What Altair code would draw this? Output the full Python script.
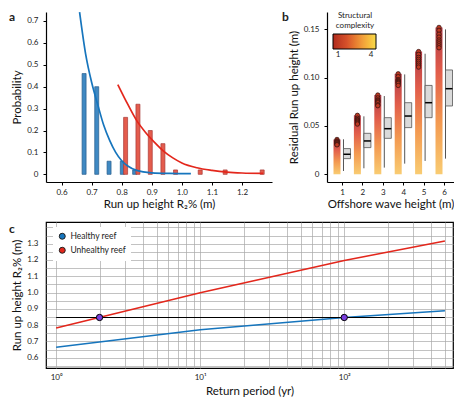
import altair as alt
import pandas as pd

FONT = "Lato"
TXT = "#222222"

# ---------------- Panel a : probability of run-up height ----------------
reef_names = ["Healthy reef", "Unhealthy reef"]
healthy_bin_x = [0.675, 0.717, 0.758, 0.802, 0.843]
healthy_bin_p = [0.46, 0.40, 0.06, 0.06, 0.02]
unhealthy_bin_x = [0.813, 0.854, 0.895, 0.937, 0.979, 1.061, 1.144, 1.267]
unhealthy_bin_p = [0.26, 0.32, 0.20, 0.14, 0.02, 0.02, 0.02, 0.02]
healthy_fit_x = [0.66, 0.68, 0.70, 0.72, 0.74, 0.76, 0.78, 0.80, 0.82, 0.85, 0.90, 0.96, 1.03]
healthy_fit_p = [0.74, 0.55, 0.42, 0.32, 0.225, 0.155, 0.10, 0.062, 0.038, 0.018, 0.007, 0.004, 0.003]
unhealthy_fit_x = [0.787, 0.82, 0.85, 0.88, 0.91, 0.94, 0.97, 1.00, 1.05, 1.10, 1.15, 1.20, 1.27]
unhealthy_fit_p = [0.41, 0.32, 0.245, 0.19, 0.145, 0.105, 0.075, 0.052, 0.03, 0.018, 0.01, 0.006, 0.004]

# ---------------- Panel b : residual run-up vs offshore wave height ----------------
wave_height = [1, 2, 3, 4, 5, 6]
strip_low = [0, 0, 0, 0, 0, 0]
strip_high = [0.036, 0.061, 0.082, 0.104, 0.127, 0.152]
whisker_low = [0.0034, 0.0062, 0.0069, 0.011, 0.0138, 0.0162]
whisker_high = [0.0362, 0.060, 0.081, 0.1034, 0.1248, 0.150]
box_q1 = [0.0162, 0.0276, 0.0372, 0.0483, 0.0586, 0.0707]
box_median = [0.0207, 0.0345, 0.0472, 0.0603, 0.0741, 0.0886]
box_q3 = [0.0266, 0.0424, 0.0586, 0.0741, 0.092, 0.108]
top_points = {
    1: [0.036, 0.0345, 0.0335, 0.033, 0.032, 0.031, 0.0305],
    2: [0.061, 0.058, 0.0565, 0.056, 0.055, 0.054, 0.053, 0.052],
    3: [0.082, 0.079, 0.077, 0.076, 0.075, 0.074, 0.072, 0.071],
    4: [0.104, 0.101, 0.098, 0.097, 0.096, 0.095, 0.094, 0.092],
    5: [0.127, 0.124, 0.121, 0.119, 0.117, 0.115, 0.113, 0.111],
    6: [0.152, 0.149, 0.145, 0.142, 0.139, 0.137, 0.135, 0.133, 0.131],
}
top_complexity = 1

# ---------------- Panel c : run-up vs return period ----------------
return_period = [1, 10, 100, 500]
healthy_rp = [0.664, 0.772, 0.847, 0.888]
unhealthy_rp = [0.782, 0.999, 1.197, 1.316]
threshold_rp = [1, 500]
threshold_val = 0.847
crossing_rp = [2, 100]

# ---------------- data frames ----------------
bars_df = pd.DataFrame({
    "x": healthy_bin_x + unhealthy_bin_x,
    "p": healthy_bin_p + unhealthy_bin_p,
    "reef": [reef_names[0]] * len(healthy_bin_x) + [reef_names[1]] * len(unhealthy_bin_x),
})
fit_h_df = pd.DataFrame({"x": healthy_fit_x, "p": healthy_fit_p})
fit_u_df = pd.DataFrame({"x": unhealthy_fit_x, "p": unhealthy_fit_p})
b_df = pd.DataFrame({
    "wave": wave_height, "lo": strip_low, "hi": strip_high,
    "wlo": whisker_low, "whi": whisker_high,
    "q1": box_q1, "med": box_median, "q3": box_q3,
})
tp_rows = []
for w, vals in top_points.items():
    for v in vals:
        tp_rows.append({"wave": w, "r": v, "cx": top_complexity})
tp_df = pd.DataFrame(tp_rows)

c_h_df = pd.DataFrame({"rp": return_period, "R": healthy_rp})
c_u_df = pd.DataFrame({"rp": return_period, "R": unhealthy_rp})
c_leg_df = pd.DataFrame({"rp": [return_period[0]] * 2, "R": [healthy_rp[0], unhealthy_rp[0]],
                         "reef": reef_names})
thr_df = pd.DataFrame({"rp": threshold_rp, "R": [threshold_val] * len(threshold_rp)})
cross_df = pd.DataFrame({"rp": crossing_rp, "R": [threshold_val] * len(crossing_rp)})

LINE_COLORS = ["#1675bd", "#e3271c"]
BAR_FILL = ["#3f89c3", "#e45c4d"]
BAR_STROKE = ["#2a5f8c", "#a83a36"]

# ---------------- panel a ----------------
ya_scale = alt.Scale(domain=[-0.035, 0.741], nice=False, zero=False)
xa = alt.X("x:Q", scale=alt.Scale(domain=[0.565, 1.283], nice=False, zero=False),
           axis=alt.Axis(values=[0.6, 0.7, 0.8, 0.9, 1.0, 1.1, 1.2], format=".1f", tickCount=50,
                         labelPadding=3, titlePadding=2,
                         title="Run up height R₂% (m)", labelFlush=False))
ya = alt.Y("p:Q", scale=ya_scale, stack=None,
           axis=alt.Axis(values=[0, 0.1, 0.2, 0.3, 0.4, 0.5, 0.6, 0.7], tickCount=50,
                         labelExpr="datum.value == 0 ? '0' : format(datum.value, '.1f')",
                         title="Probability"))

legend_a = alt.Legend(orient="none", legendX=166, legendY=5, title=None, symbolType="circle",
                      symbolSize=36, symbolStrokeColor="#222", symbolStrokeWidth=1, symbolOpacity=1,
                      labelFontSize=8, rowPadding=2, padding=0, labelColor=TXT)

bars = alt.Chart(bars_df).mark_bar(size=4, strokeWidth=0.7).encode(
    x=xa, y=ya,
    fill=alt.Fill("reef:N", scale=alt.Scale(domain=reef_names, range=BAR_FILL), legend=None),
    stroke=alt.Stroke("reef:N", scale=alt.Scale(domain=reef_names, range=BAR_STROKE), legend=None),
)
fit_h = alt.Chart(fit_h_df).mark_line(strokeWidth=1.7, interpolate="monotone",
                                      color=LINE_COLORS[0]).encode(x="x:Q", y="p:Q")
fit_u = alt.Chart(fit_u_df).mark_line(strokeWidth=1.7, interpolate="monotone",
                                      color=LINE_COLORS[1]).encode(x="x:Q", y="p:Q")
leg_a = alt.Chart(bars_df).mark_point(filled=True, opacity=0, size=36).encode(
    x="x:Q", y="p:Q",
    color=alt.Color("reef:N", scale=alt.Scale(domain=reef_names, range=LINE_COLORS), legend=legend_a),
)
lab_a = alt.Chart(pd.DataFrame({"t": ["a"]})).mark_text(
    fontSize=12, fontWeight="bold", align="left", baseline="top", color=TXT
).encode(x=alt.value(-37), y=alt.value(0), text="t:N")

panel_a = alt.layer(bars, fit_h, fit_u, leg_a, lab_a).properties(width=226, height=170)

# ---------------- panel b ----------------
xb = alt.X("wave:Q", scale=alt.Scale(domain=[0.265, 6.49], nice=False, zero=False),
           axis=alt.Axis(values=wave_height, format="d", tickCount=50,
                         labelPadding=3, titlePadding=2,
                         title="Offshore wave height (m)"))
yb_scale = alt.Scale(domain=[-0.008, 0.168], nice=False, zero=False)
yb_axis = alt.Axis(values=[0, 0.05, 0.10, 0.15], tickCount=50,
                   labelExpr="datum.value == 0 ? '0' : format(datum.value, '.2f')",
                   title="Residual Run up height (m)")

strip_fill = alt.Gradient(
    gradient="linear", x1=0, x2=0, y1=1, y2=0,
    stops=[alt.GradientStop(color="#f8c662", offset=0),
           alt.GradientStop(color="#f28f3e", offset=0.35),
           alt.GradientStop(color="#de4b37", offset=0.7),
           alt.GradientStop(color="#a82431", offset=1)],
)
strip = alt.Chart(b_df).mark_rect(xOffset=-8.5, x2Offset=-1.5, fill=strip_fill, opacity=0.9).encode(
    x=xb, x2="wave:Q", y=alt.Y("lo:Q", scale=yb_scale, axis=yb_axis), y2="hi:Q")
whisk = alt.Chart(b_df).mark_rule(xOffset=1.5, color="#555555", strokeWidth=1).encode(
    x="wave:Q", y="wlo:Q", y2="whi:Q")
box = alt.Chart(b_df).mark_rect(xOffset=1.5, x2Offset=8.5, fill="#dadada", stroke="#555555",
                                strokeWidth=0.8).encode(x="wave:Q", x2="wave:Q", y="q1:Q", y2="q3:Q")
med = alt.Chart(b_df).mark_rule(xOffset=1.5, x2Offset=8.5, color="black", strokeWidth=1.5).encode(
    x="wave:Q", x2="wave:Q", y="med:Q")
legend_b = alt.Legend(orient="none", legendX=6, legendY=0, direction="horizontal",
                      gradientLength=43, gradientThickness=15, gradientStrokeColor="black",
                      gradientStrokeWidth=1, values=[1, 4], title=["Structural", "complexity"],
                      titleFontSize=8, titleFontWeight="normal", titleAnchor="middle",
                      titleLineHeight=10, titlePadding=4, labelFontSize=8, labelOffset=2,
                      padding=0, labelColor=TXT, titleColor=TXT)
tops = alt.Chart(tp_df).mark_point(filled=True, size=20, stroke="#2a0f0f", strokeWidth=0.7,
                                   xOffset=-5, opacity=1).encode(
    x="wave:Q", y="r:Q",
    color=alt.Color("cx:Q", scale=alt.Scale(domain=[0.55, 4.45],
                                            range=["#b02a1d", "#d8532b", "#f09a3a", "#f7dc4b"]),
                    legend=legend_b),
)
lab_b = alt.Chart(pd.DataFrame({"t": ["b"]})).mark_text(
    fontSize=12, fontWeight="bold", align="left", baseline="top", color=TXT
).encode(x=alt.value(-45), y=alt.value(0), text="t:N")

panel_b = alt.layer(strip, whisk, box, med, tops, lab_b).properties(width=127, height=170)

# ---------------- panel c ----------------
grid_x = [m * 10 ** e for e in range(3) for m in range(1, 10) if m * 10 ** e <= 500]
grid_y = [0.55, 0.6, 0.65, 0.7, 0.75, 0.8, 0.85, 0.9, 0.95, 1.0, 1.05, 1.1, 1.15, 1.2, 1.25,
          1.3, 1.35, 1.4]
xc = alt.X("rp:Q", scale=alt.Scale(type="log", domain=[0.85, 569], nice=False),
           axis=alt.Axis(values=grid_x, tickCount=100, grid=True, gridColor="#a8a8a8", gridWidth=0.7,
                         labelExpr="datum.value == 1 ? '10⁰' : datum.value == 10 ? '10¹' : datum.value == 100 ? '10²' : ''",
                         labelFlush=False, domain=False, tickSize=0,
                         labelPadding=5, title="Return period (yr)"))
yc = alt.Y("R:Q", scale=alt.Scale(domain=[0.537, 1.433], nice=False, zero=False),
           axis=alt.Axis(values=grid_y, tickCount=100, grid=True, gridColor="#a8a8a8", gridWidth=0.7,
                         labelExpr="(abs(datum.value * 10 - round(datum.value * 10)) < 0.01 && datum.value > 0.58 && datum.value < 1.32) ? format(datum.value, '.1f') : ''",
                         labelFlush=False, domain=False, tickSize=0,
                         labelPadding=8, title="Run up height R₂% (m)"))
legend_c = alt.Legend(orient="none", legendX=7, legendY=5, title=None, symbolType="circle",
                      symbolSize=36, symbolStrokeColor="#222", symbolStrokeWidth=1, symbolOpacity=1,
                      labelFontSize=8.5, rowPadding=3, padding=5, fillColor="white", labelColor=TXT)

line_h = alt.Chart(c_h_df).mark_line(strokeWidth=1.6, color=LINE_COLORS[0]).encode(x=xc, y=yc)
line_u = alt.Chart(c_u_df).mark_line(strokeWidth=1.6, color=LINE_COLORS[1]).encode(x="rp:Q", y="R:Q")
thr = alt.Chart(thr_df).mark_line(color="black", strokeWidth=1.1).encode(x="rp:Q", y="R:Q")
cross = alt.Chart(cross_df).mark_point(filled=True, size=40, fill="#7b3fe0", stroke="black",
                                        strokeWidth=1, opacity=1).encode(x="rp:Q", y="R:Q")
leg_c = alt.Chart(c_leg_df).mark_point(filled=True, opacity=0, size=36).encode(
    x="rp:Q", y="R:Q",
    color=alt.Color("reef:N", scale=alt.Scale(domain=reef_names, range=LINE_COLORS), legend=legend_c),
)
lab_c = alt.Chart(pd.DataFrame({"t": ["c"]})).mark_text(
    fontSize=12, fontWeight="bold", align="left", baseline="middle", color=TXT
).encode(x=alt.value(-37), y=alt.value(7), text="t:N")

panel_c = alt.layer(line_h, line_u, thr, cross, leg_c, lab_c).properties(
    width=407, height=146, view=alt.ViewBackground(stroke="black", strokeWidth=1.2))

top = alt.hconcat(panel_a, panel_b, spacing=10).resolve_scale(
    color="independent", fill="independent", stroke="independent")
chart = alt.vconcat(top, panel_c, spacing=11).resolve_scale(
    color="independent", fill="independent", stroke="independent"
).properties(padding=0).configure(font=FONT).configure_view(stroke=None).configure_axis(
    labelFont=FONT, titleFont=FONT, labelFontSize=8, titleFontSize=11.5,
    titleFontWeight="normal", labelColor=TXT, titleColor="#111111",
    domainColor="black", domainWidth=1.2, tickColor="black", tickSize=3,
    labelPadding=5, titlePadding=4, grid=False, labelOverlap=False,
).configure_legend(labelFont=FONT, titleFont=FONT)

chart.save("out.html", embed_options={"renderer": "svg", "actions": False})
